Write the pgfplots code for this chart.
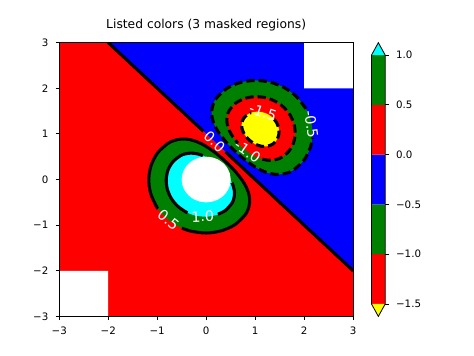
\documentclass[border=0pt]{standalone}
\usepackage{pgfplots}
\pgfplotsset{compat=1.18}
\usepackage{fontspec}
\setmainfont{DejaVu Sans}
\definecolor{mgreen}{RGB}{0,128,0}
\definecolor{mcyan}{RGB}{0,255,255}
\definecolor{myellow}{RGB}{255,255,0}
\definecolor{mred}{RGB}{255,0,0}
\definecolor{mblue}{RGB}{0,0,255}
\tikzset{
  cfill/.style={draw=none, smooth},
  cline/.style={black, line width=3pt, line cap=butt, line join=round, smooth},
  nline/.style={cline, dash pattern=on 8pt off 4pt},
  lab/.style={white, font=\fontsize{14}{16}\selectfont, inner sep=0pt, anchor=center}
}
\begin{document}
\begin{tikzpicture}
\path[use as bounding box] (0,0) rectangle (6.4in,4.8in);
\begin{axis}[
  at={(0.8in,0.528in)}, anchor=south west,
  scale only axis, width=3.968in, height=3.696in,
  xmin=-3, xmax=3, ymin=-3, ymax=3,
  xtick={-3,-2,-1,0,1,2,3}, ytick={-3,-2,-1,0,1,2,3},
  xticklabels={−3,−2,−1,0,1,2,3}, yticklabels={−3,−2,−1,0,1,2,3},
  tick align=outside, xtick pos=left, ytick pos=left,
  major tick length=3.5pt,
  every tick/.style={black, line width=0.8pt},
  axis line style={line width=0.8pt},
  tick label style={font=\fontsize{10}{12}\selectfont, inner sep=0pt},
  xticklabel style={yshift=-7pt},
  yticklabel style={xshift=-7pt},
  title={Listed colors (3 masked regions)},
  title style={font=\fontsize{12}{14}\selectfont, at={(0.5,1)}, anchor=base, yshift=7.5pt, inner sep=0pt},
  axis on top,
]
% background: Z in [0,0.5] (red) and [-0.5,0] (blue)
\addplot[fill=mred, draw=none] coordinates {(-3,-3)(3,-3)(3,-2)(-2,3)(-3,3)(-3,-3)};
\addplot[fill=mblue, draw=none] coordinates {(-2,3)(3,3)(3,-2)(-2,3)};
% Z > 0.5 (green)
\addplot[cfill, fill=mgreen] coordinates {
(-0.8308,-0.8308)(-0.5875,-1.0176)(-0.3038,-1.134)(0,-1.172)(0.3018,-1.1263)(0.576,-0.9976)
(0.7877,-0.7877)(0.855,-0.6561)(0.8868,-0.512)(0.8807,-0.3648)(0.8428,-0.2258)(0.7868,-0.1036)
(0.725,0)(0.6061,0.1624)(0.4984,0.2878)(0.3953,0.3953)(0.2878,0.4984)(0.1624,0.6061)(0,0.725)
(-0.1036,0.7868)(-0.2258,0.8428)(-0.3648,0.8807)(-0.512,0.8868)(-0.6561,0.855)(-0.7877,0.7877)
(-0.9976,0.576)(-1.1263,0.3018)(-1.172,0)(-1.134,-0.3038)(-1.0176,-0.5875)(-0.8308,-0.8308)};
% Z > 1 (cyan)
\addplot[cfill, fill=mcyan] coordinates {
(0,-0.816)(0.2086,-0.7785)(0.3915,-0.6781)(0.5233,-0.5233)(0.5609,-0.4304)(0.5772,-0.3333)
(0.5737,-0.2377)(0.5544,-0.1486)(0.5264,-0.0693)(0.493,0)(0.4221,0.1131)(0.3516,0.203)(0.28,0.28)
(0.203,0.3516)(0.1131,0.4221)(0,0.493)(-0.0693,0.5264)(-0.1486,0.5544)(-0.2377,0.5737)
(-0.3333,0.5772)(-0.4304,0.5609)(-0.5233,0.5233)(-0.6781,0.3915)(-0.7785,0.2086)(-0.816,0)
(-0.7935,-0.2126)(-0.7136,-0.412)(-0.5834,-0.5834)(-0.412,-0.7136)(-0.2126,-0.7935)(0,-0.816)};
% masked circle r < 0.5
\addplot[cfill, fill=white] coordinates {
(0.5,0)(0.483,0.1294)(0.433,0.25)(0.3536,0.3536)(0.25,0.433)(0.1294,0.483)(0,0.5)
(-0.1294,0.483)(-0.25,0.433)(-0.3536,0.3536)(-0.433,0.25)(-0.483,0.1294)(-0.5,0)
(-0.483,-0.1294)(-0.433,-0.25)(-0.3536,-0.3536)(-0.25,-0.433)(-0.1294,-0.483)(0,-0.5)
(0.1294,-0.483)(0.25,-0.433)(0.3536,-0.3536)(0.433,-0.25)(0.483,-0.1294)(0.5,0)};
% Z < -0.5 (green)
\addplot[cfill, fill=mgreen] coordinates {
(1.8308,1.8308)(1.5875,2.0176)(1.3038,2.134)(1,2.172)(0.6982,2.1263)(0.424,1.9976)(0.2123,1.7877)
(0.145,1.6561)(0.1132,1.512)(0.1193,1.3648)(0.1572,1.2258)(0.2132,1.1036)(0.275,1)(0.3939,0.8376)
(0.5016,0.7122)(0.6047,0.6047)(0.7122,0.5016)(0.8376,0.3939)(1,0.275)(1.1036,0.2132)(1.2258,0.1572)
(1.3648,0.1193)(1.512,0.1132)(1.6561,0.145)(1.7877,0.2123)(1.9976,0.424)(2.1263,0.6982)(2.172,1)
(2.134,1.3038)(2.0176,1.5875)(1.8308,1.8308)};
% Z < -1 (red)
\addplot[cfill, fill=mred] coordinates {
(1,1.816)(0.7914,1.7785)(0.6085,1.6781)(0.4767,1.5233)(0.4391,1.4304)(0.4228,1.3333)(0.4263,1.2377)
(0.4456,1.1486)(0.4736,1.0693)(0.507,1)(0.5779,0.8869)(0.6484,0.797)(0.72,0.72)(0.797,0.6484)
(0.8869,0.5779)(1,0.507)(1.0693,0.4736)(1.1486,0.4456)(1.2377,0.4263)(1.3333,0.4228)(1.4304,0.4391)
(1.5233,0.4767)(1.6781,0.6085)(1.7785,0.7914)(1.816,1)(1.7935,1.2126)(1.7136,1.412)(1.5834,1.5834)
(1.412,1.7136)(1.2126,1.7935)(1,1.816)};
% Z < -1.5 (yellow)
\addplot[cfill, fill=myellow] coordinates {
(1.3571,1.3571)(1.2515,1.4356)(1.1286,1.4801)(1,1.485)(0.88,1.4478)(0.7857,1.3711)(0.7334,1.2666)
(0.7255,1.1585)(0.746,1.0681)(0.776,1)(0.8087,0.9488)(0.8402,0.9077)(0.8727,0.8727)(0.9077,0.8402)
(0.9488,0.8087)(1,0.776)(1.0681,0.746)(1.1585,0.7255)(1.2666,0.7334)(1.3711,0.7857)(1.4478,0.88)
(1.485,1)(1.4801,1.1286)(1.4356,1.2515)(1.3571,1.3571)};
% masked corners
\addplot[fill=white, draw=none] coordinates {(-3,-3)(-2,-3)(-2,-2)(-3,-2)(-3,-3)};
\addplot[fill=white, draw=none] coordinates {(2,2)(3,2)(3,3)(2,3)(2,2)};
% contour lines
\addplot[cline] coordinates {(-2,3)(-0.057,1.057)};
\addplot[cline] coordinates {(0.397,0.603)(3,-2)};
\addplot[cline] coordinates {
(-0.4966,-1.0649)(-0.3038,-1.134)(0,-1.172)(0.3018,-1.1263)(0.576,-0.9976)(0.7877,-0.7877)
(0.855,-0.6561)(0.8868,-0.512)(0.8807,-0.3648)(0.8428,-0.2258)(0.7868,-0.1036)(0.725,0)
(0.6061,0.1624)(0.4984,0.2878)(0.3953,0.3953)(0.2878,0.4984)(0.1624,0.6061)(0,0.725)
(-0.1036,0.7868)(-0.2258,0.8428)(-0.3648,0.8807)(-0.512,0.8868)(-0.6561,0.855)(-0.7877,0.7877)
(-0.9976,0.576)(-1.1263,0.3018)(-1.172,0)(-1.134,-0.3038)(-1.0176,-0.5875)(-0.9854,-0.6399)};
\addplot[cline] coordinates {
(-0.0693,0.5264)(-0.1486,0.5544)(-0.2377,0.5737)(-0.3333,0.5772)(-0.4304,0.5609)(-0.5233,0.5233)
(-0.6781,0.3915)(-0.7785,0.2086)(-0.816,0)(-0.7935,-0.2126)(-0.7136,-0.412)(-0.5834,-0.5834)
(-0.412,-0.7136)(-0.38,-0.726)};
\addplot[cline] coordinates {
(0.24,-0.761)(0.3915,-0.6781)(0.5233,-0.5233)(0.5609,-0.4304)(0.5772,-0.3333)(0.5737,-0.2377)
(0.5544,-0.1486)(0.5264,-0.0693)};
\addplot[nline] coordinates {
(2.0374,1.5516)(1.8308,1.8308)(1.5875,2.0176)(1.3038,2.134)(1,2.172)(0.6982,2.1263)(0.424,1.9976)
(0.2123,1.7877)(0.145,1.6561)(0.1132,1.512)(0.1193,1.3648)(0.1572,1.2258)(0.2132,1.1036)(0.275,1)
(0.3939,0.8376)(0.5016,0.7122)(0.6047,0.6047)(0.7122,0.5016)(0.8376,0.3939)(1,0.275)(1.1036,0.2132)
(1.2258,0.1572)(1.3648,0.1193)(1.512,0.1132)(1.6561,0.145)(1.7877,0.2123)(1.9976,0.424)
(2.1263,0.6982)(2.1692,0.9182)};
\addplot[nline] coordinates {
(1.1486,0.4456)(1.2377,0.4263)(1.3333,0.4228)(1.4304,0.4391)(1.5233,0.4767)(1.6781,0.6085)
(1.7785,0.7914)(1.816,1)(1.7935,1.2126)(1.7136,1.412)(1.5834,1.5834)(1.412,1.7136)(1.2126,1.7935)
(1,1.816)(0.7914,1.7785)(0.6085,1.6781)(0.4767,1.5233)(0.4391,1.4304)(0.4228,1.3333)(0.4263,1.2377)
(0.4456,1.1486)(0.4736,1.0693)(0.507,1)(0.5779,0.8869)(0.6484,0.797)};
\addplot[nline] coordinates {
(1.39,1.315)(1.4356,1.2515)(1.4801,1.1286)(1.485,1)(1.4478,0.88)(1.3711,0.7857)(1.2666,0.7334)
(1.1585,0.7255)(1.0681,0.746)(1,0.776)(0.9488,0.8087)(0.9077,0.8402)(0.8727,0.8727)(0.8402,0.9077)
(0.8087,0.9488)(0.776,1)(0.746,1.0681)(0.7255,1.1585)(0.7334,1.2666)(0.7857,1.3711)(0.88,1.4478)
(0.92,1.46)};
% contour labels
\node[lab, rotate=-43] at (axis cs:0.17,0.83) {0.0};
\node[lab, rotate=-39] at (axis cs:-0.77,-0.885) {0.5};
\node[lab, rotate=2] at (axis cs:-0.07,-0.81) {1.0};
\node[lab, rotate=-35] at (axis cs:0.847,0.609) {-1.0};
\node[lab, rotate=-19] at (axis cs:1.16,1.47) {-1.5};
\node[lab, rotate=-82] at (axis cs:2.146,1.21) {-0.5};
\end{axis}
% colorbar
\begin{axis}[
  at={(5.016in,0.696in)}, anchor=south west,
  scale only axis, width=0.1848in, height=3.36in,
  xmin=0, xmax=1, ymin=-1.5, ymax=1,
  clip=false,
  axis line style={draw=none},
  xtick=\empty,
  ytick={-1.5,-1,-0.5,0,0.5,1},
  yticklabels={−1.5,−1.0,−0.5,0.0,0.5,1.0},
  ytick pos=right, yticklabel pos=right,
  tick align=outside, major tick length=3.5pt,
  every tick/.style={black, line width=0.8pt},
  tick label style={font=\fontsize{10}{12}\selectfont, inner sep=0pt},
  yticklabel style={xshift=7pt},
]
\addplot[fill=mred, draw=none] coordinates {(0,-1.5)(1,-1.5)(1,-1)(0,-1)(0,-1.5)};
\addplot[fill=mgreen, draw=none] coordinates {(0,-1)(1,-1)(1,-0.5)(0,-0.5)(0,-1)};
\addplot[fill=mblue, draw=none] coordinates {(0,-0.5)(1,-0.5)(1,0)(0,0)(0,-0.5)};
\addplot[fill=mred, draw=none] coordinates {(0,0)(1,0)(1,0.5)(0,0.5)(0,0)};
\addplot[fill=mgreen, draw=none] coordinates {(0,0.5)(1,0.5)(1,1)(0,1)(0,0.5)};
\addplot[fill=myellow, draw=none] coordinates {(0,-1.5)(1,-1.5)(0.5,-1.625)(0,-1.5)};
\addplot[fill=mcyan, draw=none] coordinates {(0,1)(1,1)(0.5,1.125)(0,1)};
\addplot[black, line width=0.8pt, line join=miter] coordinates {(0,-1.5)(0.5,-1.625)(1,-1.5)(1,1)(0.5,1.125)(0,1)(0,-1.5)} -- cycle;
\end{axis}
\end{tikzpicture}
\end{document}
